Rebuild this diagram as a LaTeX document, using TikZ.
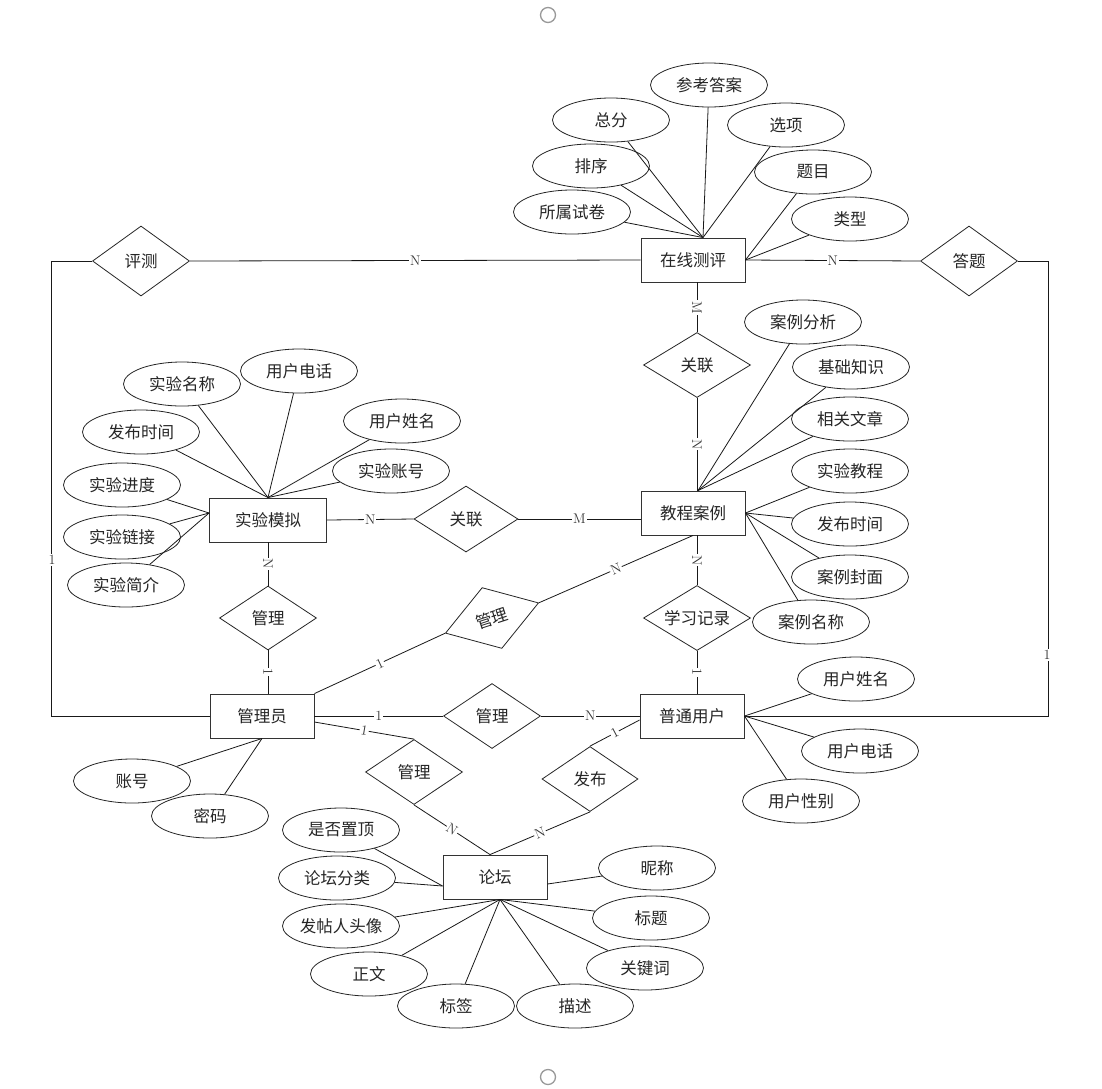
\documentclass[tikz,border=0pt]{standalone}
\usepackage{fontspec}
\newfontfamily\cjk{Noto Sans CJK SC}
\usetikzlibrary{shapes.geometric,calc}
\begin{document}
\begin{tikzpicture}[x=1pt,y=-1pt,
  cjkf/.style={font=\cjk\fontsize{16.5}{18}\selectfont, text=black!85},
  ent/.style={cjkf, draw=black!80, line width=0.9pt, minimum width=104pt, minimum height=44pt, inner sep=0pt},
  attr/.style={cjkf, ellipse, draw=black!85, line width=0.8pt, minimum width=117pt, minimum height=44pt, inner sep=0pt},
  rel/.style={cjkf, diamond, draw=black!85, line width=0.8pt, aspect=1.6, minimum width=97pt, minimum height=65pt, inner sep=0pt},
  lk/.style={draw=black!90, line width=0.8pt},
  card/.style={fill=white, inner sep=1pt, text=black!80, font=\fontsize{14}{15}\selectfont},
  handle/.style={circle, draw=gray!80, line width=1.3pt, minimum size=15pt, inner sep=0pt},
]
\useasboundingbox (0,0) rectangle (1102,1088);
\fill[white] (0,0) rectangle (1102,1088);

% handles
\node[handle] (h1) at (548,15) {};
\node[handle] (h2) at (548,1077) {};

% entities
\node[ent] (zc) at (693,260) {在线测评};
\node[ent] (tc) at (693,513) {教程案例};
\node[ent, minimum width=117pt] (sm) at (268,520) {实验模拟};
\node[ent] (gly) at (262,716) {管理员};
\node[ent] (pu) at (692,716) {普通用户};
\node[ent] (lt) at (495,877) {论坛};

% relations
\node[rel, minimum height=70pt] (pc) at (141,261) {评测};
\node[rel, minimum height=70pt] (dt) at (969,261) {答题};
\node[rel, minimum width=107pt] (gl1) at (697,365) {关联};
\node[rel, minimum width=104pt, minimum height=66pt] (gl2) at (466,519) {关联};
\node[rel, minimum height=64pt] (gm1) at (268,618) {管理};
\node[rel, minimum width=98pt, minimum height=64pt, rotate=18] (gm2) at (492,618) {管理};
\node[rel, minimum width=107pt] (xx) at (697,618) {学习记录};
\node[rel] (gm3) at (492,716) {管理};
\node[rel] (gm4) at (414,772) {管理};
\node[rel, minimum width=96pt] (fb) at (590,779) {发布};

% attributes of 在线测评
\node[attr] (zcA) at (709,85) {参考答案};
\node[attr] (zcB) at (611,120) {总分};
\node[attr] (zcC) at (786,125) {选项};
\node[attr] (zcD) at (591,166) {排序};
\node[attr] (zcE) at (813,172) {题目};
\node[attr] (zcF) at (572,212) {所属试卷};
\node[attr] (zcG) at (850,219) {类型};
\coordinate (zcT) at ([xshift=10pt]zc.north);
\foreach \a in {zcA,zcB,zcC,zcD,zcF} \draw[lk] (\a) -- (zcT);
\draw[lk] (zcE) -- (zc.east);
\draw[lk] (zcG) -- (zc.east);

% attributes of 教程案例
\node[attr] (tcA) at (803,322) {案例分析};
\node[attr] (tcB) at (851,367) {基础知识};
\node[attr] (tcC) at (850,419) {相关文章};
\node[attr] (tcD) at (850,471) {实验教程};
\node[attr] (tcE) at (850,524) {发布时间};
\node[attr] (tcF) at (850,577) {案例封面};
\node[attr] (tcG) at (811,622) {案例名称};
\coordinate (tcT) at ([xshift=5pt]tc.north);
\foreach \a in {tcA,tcB,tcC} \draw[lk] (\a) -- (tcT);
\foreach \a in {tcD,tcE,tcF,tcG} \draw[lk] (\a) -- (tc.east);

% attributes of 实验模拟
\node[attr] (smA) at (182,384) {实验名称};
\node[attr] (smB) at (299,371) {用户电话};
\node[attr] (smC) at (141,432) {发布时间};
\node[attr] (smD) at (402,421) {用户姓名};
\node[attr] (smE) at (391,471) {实验账号};
\node[attr] (smF) at (122,485) {实验进度};
\node[attr] (smG) at (122,537) {实验链接};
\node[attr] (smH) at (126,585) {实验简介};
\coordinate (smL) at ([yshift=7pt]sm.west);
\foreach \a in {smA,smB,smC,smD,smE} \draw[lk] (\a) -- (sm.north);
\foreach \a in {smF,smG,smH} \draw[lk] (\a) -- (smL);

% attributes of 普通用户
\node[attr] (puA) at (856,679) {用户姓名};
\node[attr] (puB) at (860,751) {用户电话};
\node[attr] (puC) at (801,801) {用户性别};
\foreach \a in {puA,puB,puC} \draw[lk] (\a) -- (pu.east);

% attributes of 管理员
\node[attr] (glyA) at (132,781) {账号};
\node[attr] (glyB) at (210,816) {密码};
\foreach \a in {glyA,glyB} \draw[lk] (\a) -- (gly.south);

% attributes of 论坛
\node[attr] (ltA) at (341,830) {是否置顶};
\node[attr] (ltB) at (337,878) {论坛分类};
\node[attr] (ltC) at (341,926) {发帖人头像};
\node[attr] (ltD) at (369,974) {正文};
\node[attr] (ltE) at (456,1006) {标签};
\node[attr] (ltF) at (575,1006) {描述};
\node[attr] (ltG) at (645,968) {关键词};
\node[attr] (ltH) at (651,918) {标题};
\node[attr] (ltI) at (657,868) {昵称};
\coordinate (ltW) at ([yshift=-9pt]lt.west);
\coordinate (ltS) at ([xshift=5pt]lt.south);
\coordinate (ltE2) at ([yshift=-7pt]lt.east);
\coordinate (ltN) at ([xshift=-5pt]lt.north);
\foreach \a in {ltA,ltB} \draw[lk] (\a) -- (ltW);
\foreach \a in {ltC,ltD,ltE,ltF,ltG,ltH} \draw[lk] (\a) -- (ltS);
\draw[lk] (ltI) -- (ltE2);

% relationship connectors
\draw[lk] (pc.east) -- node[card] {N} (zc.west);
\draw[lk] (zc.east) -- node[card] {N} (dt.west);
\draw[lk] (pc.west) -- ++(-41,0) |- (gly.west);
\node[card] (c1) at (52,560) {1};
\draw[lk] (dt.east) -- ++(30,0) |- (pu.east);
\node[card] (c2) at (1047,655) {1};

\draw[lk] (gl1.north |- zc.south) -- node[card, rotate=-90] {M} (gl1.north);
\draw[lk] (gl1.south) -- node[card, rotate=-90] {N} (gl1.south |- tc.north);
\draw[lk] (xx.north |- tc.south) -- node[card, rotate=-90] {N} (xx.north);
\draw[lk] (xx.south) -- node[card, rotate=-90] {1} (xx.south |- pu.north);
\draw[lk] (sm.south) -- node[card, rotate=-90] {N} (gm1.north);
\draw[lk] (gm1.south) -- node[card, rotate=-90] {1} (gm1.south |- gly.north);

\draw[lk] (sm.east) -- node[card] {N} (gl2.west);
\draw[lk] (gl2.east) -- node[card] {M} (gl2.east -| tc.west);

\draw[lk] (gly.north east) -- node[card, sloped] {1} (gm2.west);
\draw[lk] (gm2.east) -- node[card, sloped] {N} (tc.south);

\draw[lk] (gly.east) -- node[card] {1} (gm3.west);
\draw[lk] (gm3.east) -- node[card] {N} (pu.west);

\draw[lk] ([yshift=-6pt]gly.east) -- node[card, sloped] {1} (gm4.north);
\draw[lk] (gm4.south) -- node[card, sloped] {N} (ltN);

\draw[lk] (fb.north) -- node[card, sloped] {1} ([yshift=-4pt]pu.west);
\draw[lk] (fb.south) -- node[card, sloped] {N} (ltN);
\end{tikzpicture}
\end{document}
